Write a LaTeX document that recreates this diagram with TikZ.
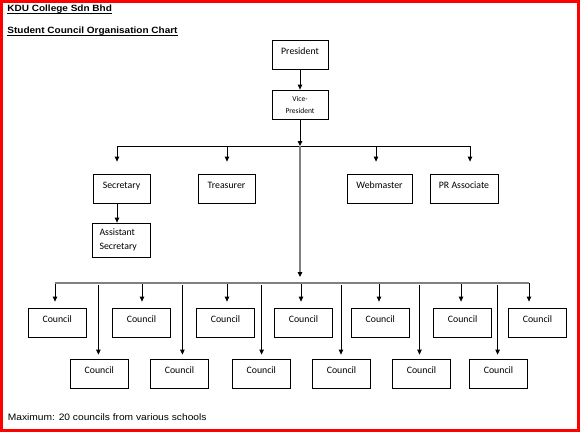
\documentclass[tikz,border=0pt]{standalone}
\usepackage{fontspec}
\setmainfont{Carlito}
\newfontfamily\arialfont[FakeStretch=1.1]{Liberation Sans}
\usetikzlibrary{arrows.meta,positioning}
\newcommand\titleline[1]{\setbox0\hbox{#1}\rlap{\rule[-2.2pt]{\wd0}{0.9pt}}\box0}

\begin{document}
\begin{tikzpicture}[x=1pt,y=-1pt,line width=0.8pt,on grid,
   >={Triangle[length=5pt,width=4.5pt]},
   box/.style={draw,inner sep=0pt,minimum width=57pt,minimum height=29pt,
     text height=14.5pt,text depth=14.5pt,font=\fontsize{9.8}{11}\selectfont},
   council/.style={box,minimum width=58pt},
   trunk/.style={draw=gray,line width=2pt},
   heading/.style={anchor=base west,inner sep=0pt,
     font=\arialfont\bfseries\fontsize{9.1}{12}\selectfont}]
   \useasboundingbox (0,0) rectangle (580,432);
   \draw[red,line width=3pt] (1.5,1.5) rectangle (578.5,430.5);
   \node[heading] (college) at (7,11.2) {\titleline{KDU College Sdn Bhd}};
   \node[heading] (chart) at (7,33.8) {\titleline{Student Council Organisation Chart}};
   \node[anchor=base west,inner sep=0pt,font=\arialfont\fontsize{9.3}{12}\selectfont]
     (note) at (7.4,420.3) {Maximum: 20 councils from various schools};
   % officers
   \node[box,minimum width=56pt] (pres) at (300,54.5) {President};
   \node[box,minimum width=56pt,text height=,text depth=,align=center,
     font=\fontsize{7.5}{12}\selectfont] (vp) [below=50pt of pres] {Vice-\\President};
   \node[box] (sec) at (121.5,188.5) {Secretary};
   \node[box] (treas) at (226.5,188.5) {Treasurer};
   \node[box,minimum width=65pt] (web) at (379.5,188.5) {Webmaster};
   \node[box,minimum width=68pt] (pr) at (464,188.5) {PR Associate};
   \node[box,minimum width=58pt,minimum height=34pt,text height=,text depth=,
     inner xsep=7pt,text width=44pt,align=left,font=\fontsize{9.8}{14}\selectfont]
     (asst) [below=51.5pt of sec] {Assistant\\Secretary};
   % councils
   \node[council] (k1) at (57.2,322.5) {Council};
   \node[council] (k2) at (141.5,322.5) {Council};
   \node[council] (k3) at (225.5,322.5) {Council};
   \node[council] (k4) at (303.5,322.5) {Council};
   \node[council] (k5) at (380.3,322.5) {Council};
   \node[council] (k6) at (462.6,322.5) {Council};
   \node[council] (k7) at (537.5,322.5) {Council};
   \node[council] (m1) at (99.3,373.5) {Council};
   \node[council] (m2) at (179.5,373.5) {Council};
   \node[council] (m3) at (261.3,373.5) {Council};
   \node[council] (m4) at (341.5,373.5) {Council};
   \node[council] (m5) at (421.5,373.5) {Council};
   \node[council] (m6) at (498.5,373.5) {Council};
   % bus points
   \coordinate (s1) at (117,146);
   \coordinate (s2) at (227,146);
   \coordinate (s3) at (376,146);
   \coordinate (s4) at (470,146);
   \coordinate (t1) at (55,283);
   \coordinate (t2) at (142,283);
   \coordinate (t3) at (227,283);
   \coordinate (t4) at (301,283);
   \coordinate (t5) at (379,283);
   \coordinate (t6) at (461,283);
   \coordinate (t7) at (529,283);
   \coordinate (b1) at (98.4,285);
   \coordinate (b2) at (182.4,285);
   \coordinate (b3) at (261.6,285);
   \coordinate (b4) at (341,285);
   \coordinate (b5) at (419.5,285);
   \coordinate (b6) at (497.6,285);
   \path[->]
    (pres) edge (vp)
    (vp.south) edge (vp.south |- s1)
    (sec.south -| s1) edge (asst.north -| s1);
   \draw (s1) -- (s4);
   \path[->,shorten >=12pt]
    (s1) edge (s1 |- sec.north)
    (s2) edge (s2 |- treas.north)
    (s3) edge (s3 |- web.north)
    (s4) edge (s4 |- pr.north);
   \path[->,shorten >=4pt]
    (b1) edge (b1 |- m1.north)
    (b2) edge (b2 |- m2.north)
    (b3) edge (b3 |- m3.north)
    (b4) edge (b4 |- m4.north)
    (b5) edge (b5 |- m5.north)
    (b6) edge (b6 |- m6.north);
   \path[->,shorten >=6pt]
    (t1) edge (t1 |- k1.north)
    (t2) edge (t2 |- k2.north)
    (t3) edge (t3 |- k3.north)
    (t4) edge (t4 |- k4.north)
    (t5) edge (t5 |- k5.north)
    (t6) edge (t6 |- k6.north)
    (t7) edge (t7 |- k7.north);
   \draw[trunk,-{Triangle[length=5pt,width=4.5pt,color=black]},shorten >=6pt]
    (vp.south |- s1) -- (vp.south |- t4);
   \draw[trunk] (t1) -- (t7);
\end{tikzpicture}
\end{document}
